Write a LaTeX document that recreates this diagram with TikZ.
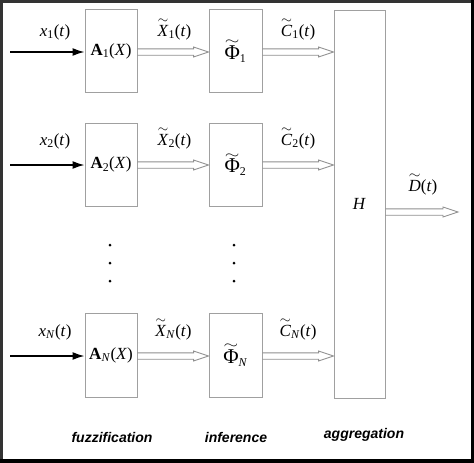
\documentclass[tikz,border=0pt]{standalone}
\usepackage{fontspec}
\usepackage{graphicx}
\setmainfont{Liberation Serif}
\newfontfamily\stagefont{Liberation Sans}
\usetikzlibrary{calc,arrows.meta}
\definecolor{boxgray}{HTML}{A0A0A0}
\definecolor{arrgray}{HTML}{909090}
\definecolor{framegray}{HTML}{333333}
\newcommand{\tld}[2][0pt]{\setbox0\hbox{#2}\leavevmode
  \rlap{\hspace{#1}\raisebox{\dimexpr\ht0+1.2pt\relax}{\makebox[\wd0]{\resizebox{0.95\wd0}{4.6pt}{$\sim$}}}}\box0}
\newcommand{\harrow}[2]{%
  \path #1 coordinate (hs) #2 coordinate (he);
  \draw[hollowarr] ($(hs)+(0,3.2)$) -- ($(he)+(-15,3.2)$) -- ($(he)+(-15,5)$) -- (he)
    -- ($(he)+(-15,-5)$) -- ($(he)+(-15,-3.2)$) -- ($(hs)+(0,-3.2)$);}
\begin{document}
\begin{tikzpicture}[x=1pt,y=-1pt,
  blk/.style={draw=boxgray, line width=0.9pt, minimum width=52pt, minimum height=83pt, inner sep=0pt, font=\fontsize{17}{20}\selectfont},
  lbl/.style={anchor=base, inner sep=0pt, font=\fontsize{17}{20}\selectfont},
  inarrow/.style={line width=1.6pt, -{Latex[length=12pt,width=8pt]}},
  hollowarr/.style={draw=arrgray, line width=0.9pt, line join=miter},
  stage/.style={anchor=base, inner sep=0pt, font=\stagefont\bfseries\itshape\fontsize{14}{16}\selectfont},
  dotn/.style={circle, fill=black, inner sep=0pt, minimum size=3pt}]
\useasboundingbox (0,0) rectangle (474,463);
% frame
\fill[black] (0,0) rectangle (474,463);
\fill[framegray] (0,0) rectangle (471,459);
\fill[white] (3,3) rectangle (471,459);
% row coordinates
\coordinate (in1) at (10,52);
\coordinate (in2) at (10,165);
\coordinate (inN) at (10,356);
% blocks
\node[blk] (A1) at (111,51) {\textbf{A}\textsubscript{1}(\textit{X})};
\node[blk] (A2) at (111,164.5) {\textbf{A}\textsubscript{2}(\textit{X})};
\node[blk, minimum height=84pt] (AN) at (111,355) {\textbf{A}\textsubscript{\textit{N}}(\textit{X})};
\node[blk, minimum width=53pt] (P1) at (235.5,51) {{\fontsize{21}{24}\selectfont\tld{Φ}}\textsubscript{1}};
\node[blk, minimum width=53pt] (P2) at (235.5,164.5) {{\fontsize{21}{24}\selectfont\tld{Φ}}\textsubscript{2}};
\node[blk, minimum width=53pt, minimum height=84pt] (PN) at (235.5,355) {{\fontsize{21}{24}\selectfont\tld{Φ}}\textsubscript{\textit{N}}};
\node[blk, minimum width=51pt, minimum height=388pt] (H) at (359.5,204) {\textit{H}};
\coordinate (Dend) at (458,212);
% inputs
\draw[inarrow] (in1) -- (in1 -| A1.west);
\draw[inarrow] (in2) -- (in2 -| A2.west);
\draw[inarrow] (inN) -- (inN -| AN.west);
% hollow arrows
\harrow{(A1.east |- in1)}{(P1.west |- in1)}
\harrow{(A2.east |- in2)}{(P2.west |- in2)}
\harrow{(AN.east |- inN)}{(PN.west |- inN)}
\harrow{(P1.east |- in1)}{(H.west |- in1)}
\harrow{(P2.east |- in2)}{(H.west |- in2)}
\harrow{(PN.east |- inN)}{(H.west |- inN)}
\harrow{(H.east |- Dend)}{(Dend)}
% labels
\node[lbl] (lx1) at (55,36) {\textit{x}\textsubscript{1}(\textit{t})};
\node[lbl] (lx2) at (55,145) {\textit{x}\textsubscript{2}(\textit{t})};
\node[lbl] (lxN) at (55,336) {\textit{x}\textsubscript{\textit{N}}(\textit{t})};
\node[lbl] (lX1) at (174.5,36) {\tld{\textit{X}}\textsubscript{1}(\textit{t})};
\node[lbl] (lX2) at (174.5,145) {\tld{\textit{X}}\textsubscript{2}(\textit{t})};
\node[lbl] (lXN) at (173.5,336) {\tld{\textit{X}}\textsubscript{\textit{N}}(\textit{t})};
\node[lbl] (lC1) at (298,36) {\tld{\textit{C}}\textsubscript{1}(\textit{t})};
\node[lbl] (lC2) at (298,145) {\tld{\textit{C}}\textsubscript{2}(\textit{t})};
\node[lbl] (lCN) at (298,336) {\tld{\textit{C}}\textsubscript{\textit{N}}(\textit{t})};
\node[lbl] (lD) at (423,191) {\tld{\textit{D}}(\textit{t})};
% dots
\foreach \yy [count=\i] in {245,263,281} {
  \node[dotn] (da\i) at (110,\yy) {};
  \node[dotn] (db\i) at (234,\yy) {};
}
% stage labels
\node[stage] (s1) at (112,442) {fuzzification};
\node[stage] (s2) at (236,442) {inference};
\node[stage] (s3) at (364,438) {aggregation};
\end{tikzpicture}
\end{document}
